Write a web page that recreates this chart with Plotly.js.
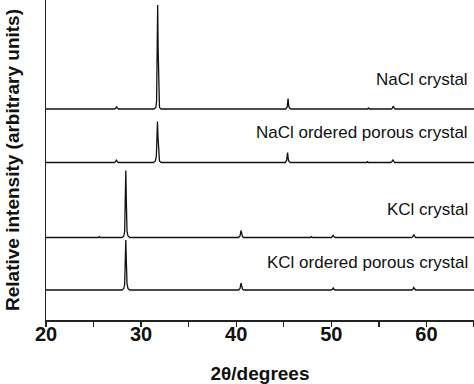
<!DOCTYPE html>
<html>
<head>
<meta charset="utf-8">
<script src="https://cdn.plot.ly/plotly-3.0.1.min.js"></script>
<style>html,body{margin:0;padding:0;background:#fff;}#chart{width:474px;height:384px;}</style>
</head>
<body>
<div id="chart"></div>
<script>
// Series names (labels drawn on the chart)
const seriesNames = ["NaCl crystal", "NaCl ordered porous crystal", "KCl crystal", "KCl ordered porous crystal"];

// NaCl crystal pattern (2θ in degrees, relative intensity)
const naclCrystalX = [20, 27.2, 27.33, 27.42, 27.51, 27.64, 31.35, 31.55, 31.63, 31.69, 31.74, 31.79, 31.85, 31.93, 32.1, 45.2, 45.36, 45.45, 45.52, 45.6, 45.75, 53.8, 53.9, 54.0, 56.3, 56.42, 56.5, 56.58, 56.7, 65];
const naclCrystalY = [0, 0, 0.8, 2.5, 0.8, 0, 0, 1.5, 8, 60, 104, 60, 8, 1.5, 0, 0, 2, 10.5, 3, 1, 0, 0, 1, 0, 0, 1, 2.8, 1, 0, 0];

// NaCl ordered porous crystal pattern
const naclPorousX = [20, 27.15, 27.3, 27.4, 27.5, 27.62, 31.3, 31.5, 31.6, 31.66, 31.72, 31.78, 31.84, 31.93, 32.1, 45.15, 45.3, 45.4, 45.48, 45.56, 45.7, 53.7, 53.8, 53.9, 56.25, 56.38, 56.46, 56.54, 56.66, 65];
const naclPorousY = [0, 0, 0.8, 2.3, 0.8, 0, 0, 1.5, 6, 25, 41, 25, 6, 1.5, 0, 0, 2, 10, 3, 1, 0, 0, 0.8, 0, 0, 1, 2.8, 1, 0, 0];

// KCl crystal pattern
const kclCrystalX = [20, 25.5, 25.6, 25.7, 28.0, 28.18, 28.27, 28.33, 28.39, 28.45, 28.52, 28.62, 28.8, 40.25, 40.4, 40.5, 40.58, 40.66, 40.8, 47.8, 47.9, 48.0, 50.0, 50.12, 50.2, 50.28, 50.4, 58.45, 58.58, 58.66, 58.74, 58.86, 65];
const kclCrystalY = [0, 0, 0.8, 0, 0, 1.5, 6, 35, 67, 35, 6, 1.5, 0, 0, 1.5, 7, 2, 0.8, 0, 0, 0.8, 0, 0, 0.8, 2.2, 0.8, 0, 0, 1, 3, 1, 0, 0];

// KCl ordered porous crystal pattern
const kclPorousX = [20, 28.0, 28.18, 28.27, 28.33, 28.39, 28.45, 28.52, 28.62, 28.8, 40.25, 40.4, 40.5, 40.58, 40.66, 40.8, 50.0, 50.12, 50.2, 50.28, 50.4, 58.45, 58.58, 58.66, 58.74, 58.86, 65];
const kclPorousY = [0, 0, 1.5, 6, 28, 50, 28, 6, 1.5, 0, 0, 1.5, 7, 2, 0.8, 0, 0, 0.8, 2, 0.8, 0, 0, 0.8, 2.5, 0.8, 0, 0];

// Vertical stacking offsets (arbitrary units) for each pattern
const offsets = [211, 157.5, 82.5, 30];
// Label vertical positions (same units as the stacked y axis)
const labelY = [241, 188, 111, 58];

// X axis ticks
const xTickVals = [20, 30, 40, 50, 60];
const xTickText = ["20", "30", "40", "50", "60"];

const xs = [naclCrystalX, naclPorousX, kclCrystalX, kclPorousX];
const ys = [naclCrystalY, naclPorousY, kclCrystalY, kclPorousY];

const traces = xs.map((x, i) => ({
  x: x,
  y: ys[i].map(v => v + offsets[i]),
  type: "scatter",
  mode: "lines",
  name: seriesNames[i],
  line: {color: "#111", width: 1.3},
  hoverinfo: "skip"
}));

const annotations = seriesNames.map((t, i) => ({
  text: t,
  xref: "paper", yref: "y",
  x: 1, y: labelY[i],
  xanchor: "right", yanchor: "middle",
  xshift: -4,
  showarrow: false,
  font: {family: "Liberation Sans, Arial, sans-serif", size: 17, color: "#111"}
}));

const layout = {
  width: 474, height: 384,
  margin: {l: 46, r: 0, t: 0, b: 64},
  paper_bgcolor: "#fff", plot_bgcolor: "#fff",
  showlegend: false,
  font: {family: "Liberation Sans, Arial, sans-serif", color: "#111"},
  xaxis: {
    range: [20, 65],
    tickvals: xTickVals, ticktext: xTickText,
    ticks: "outside", ticklen: 5, tickwidth: 1.3, tickcolor: "#222",
    minor: {dtick: 5, tick0: 25, ticks: "outside", ticklen: 5, tickwidth: 1.3, tickcolor: "#222"},
    showline: true, linecolor: "#222", linewidth: 1.5,
    showgrid: false, zeroline: false,
    ticklabelstandoff: -10,
    tickfont: {family: "Liberation Sans, Arial, sans-serif", size: 20, color: "#111", weight: "bold"},
    title: {text: "<b>2θ/degrees</b>", font: {family: "Liberation Sans, Arial, sans-serif", size: 19, color: "#111"}, standoff: 29}
  },
  yaxis: {
    range: [0, 320],
    showticklabels: false, ticks: "",
    showline: true, linecolor: "#222", linewidth: 1.5,
    showgrid: false, zeroline: false,
    title: {text: "<b>Relative intensity (arbitrary units)</b>", font: {family: "Liberation Sans, Arial, sans-serif", size: 19, color: "#111"}, standoff: 20}
  },
  annotations: annotations
};

Plotly.newPlot("chart", traces, layout, {staticPlot: true, displayModeBar: false});
</script>
</body>
</html>
